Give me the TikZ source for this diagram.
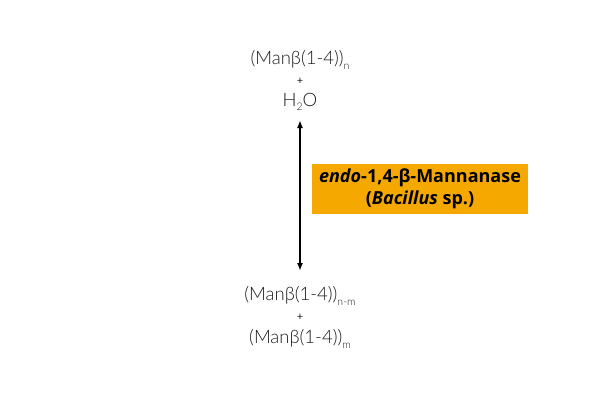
\documentclass[tikz,border=0pt]{standalone}
\usepackage{fontspec}
\usetikzlibrary{arrows.meta}
\setmainfont{Lato}
\newfontfamily\lightfont{Lato Light}
\newfontfamily\boxfont{Open Sans}
\newcommand\mysub[1]{\raisebox{-0.5ex}{\fontsize{10.5}{12}\selectfont #1}}
\definecolor{enzorange}{HTML}{F5A800}
\definecolor{txtgray}{HTML}{1A1A1A}
\begin{document}
\begin{tikzpicture}[x=1pt,y=-1pt,
  chem/.style={font=\lightfont\fontsize{18.5}{22}\selectfont, text=txtgray, inner sep=0pt},
  plus/.style={font=\fontsize{11}{12}\selectfont, text=txtgray, inner sep=0pt},
  enzbox/.style={fill=enzorange, draw=none, align=center, minimum width=216pt, minimum height=50pt,
    font=\boxfont\bfseries\fontsize{18}{22}\selectfont, text=black, inner sep=0pt}
]
\useasboundingbox (0,0) rectangle (600,400);
\node[chem] (s1) at (300,60) {(Manβ(1-4))\mysub{n}};
\node[plus] (p1) at (300,81) {+};
\node[chem] (w) at (300,102) {H\mysub{2}O};
\node[chem] (q1) at (300,296) {(Manβ(1-4))\mysub{n-m}};
\node[plus] (p2) at (300,317) {+};
\node[chem] (q2) at (300,339) {(Manβ(1-4))\mysub{m}};
\coordinate (top) at (300,120);
\coordinate (bot) at (300,271);
\draw[line width=1.6pt, {Latex[length=8pt,width=6pt]}-{Latex[length=8pt,width=6pt]}] (top) -- (bot);
\node[enzbox] (enz) at (420,189) {\textit{endo}-1,4-β-Mannanase\\(\textit{Bacillus} sp.)};
\end{tikzpicture}
\end{document}
